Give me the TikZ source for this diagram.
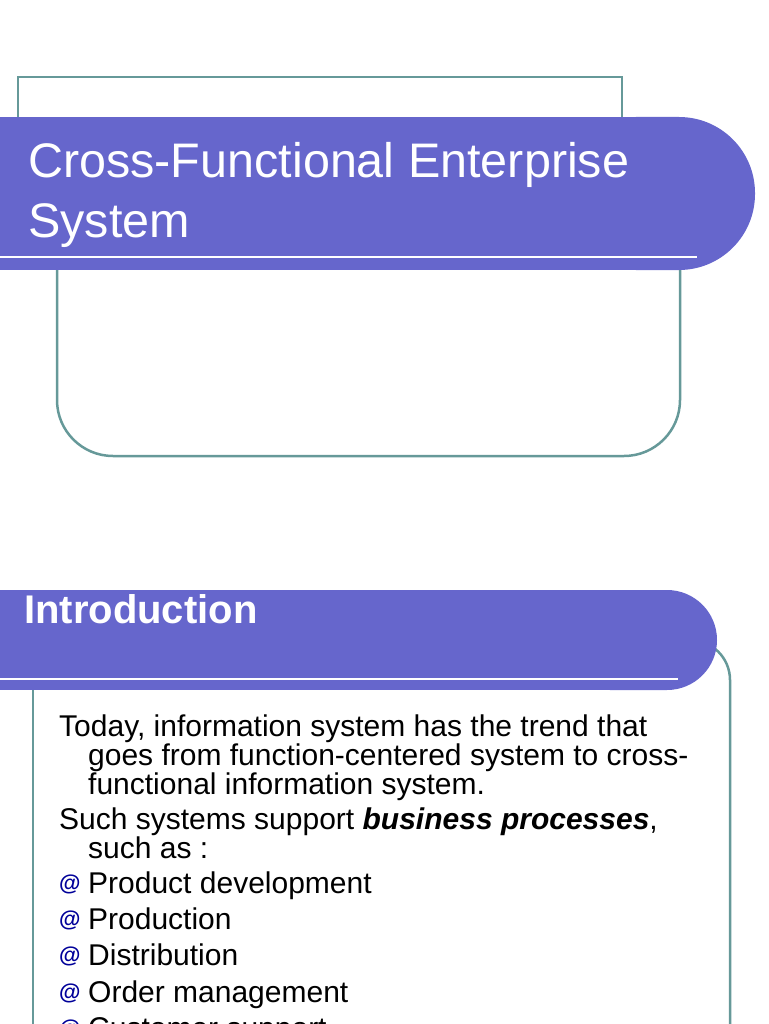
\documentclass[tikz,border=0pt]{standalone}
\usepackage{fontspec}
\setmainfont{Liberation Sans}
\begin{document}
\begin{tikzpicture}[x=1pt,y=-1pt,
  txt/.style={anchor=base west,inner sep=0pt,font=\fontsize{30}{33}\selectfont},
  bul/.style={anchor=base west,inner sep=0pt,text=blue!60!black,font=\fontsize{22}{22}\selectfont\bfseries}]
\definecolor{ban}{HTML}{6666CC}
\definecolor{tl}{HTML}{669999}
\useasboundingbox (0,0) rectangle (768,1024);
\begin{scope}
\clip (0,0) rectangle (768,1024);
% slide 1 frames
\draw[draw=tl,line width=2.5pt] (18,130) -- (18,77) -- (622,77) -- (622,130);
\draw[draw=tl,line width=2.5pt,rounded corners=56] (57,260) -- (57,456) -- (680,456) -- (680,260);
% banner 1
\fill[ban] (0,117) rectangle (680,270);
\fill[ban,rounded corners=76] (560,117) rectangle (755,270);
\draw[white,line width=2.5pt] (0,257) -- (697,257);
\node[anchor=base west,inner sep=0pt,text=white,font=\fontsize{48.5}{52}\selectfont] (t1) at (28,178) {Cross-Functional Enterprise};
\node[anchor=base west,inner sep=0pt,text=white,font=\fontsize{48.5}{52}\selectfont] (t2) at (28,237) {System};
% slide 2 frame
\draw[draw=tl,line width=2.5pt] (33,690) -- (33,1030);
\draw[draw=tl,line width=2.5pt,rounded corners=40] (680,640) -- (730,640) -- (730,1030);
% banner 2
\fill[ban] (0,590) rectangle (667,690);
\fill[ban,rounded corners=50] (560,590) rectangle (717,690);
\draw[white,line width=2.5pt] (0,679) -- (678,679);
\node[anchor=base west,inner sep=0pt,text=white,font=\fontsize{40}{44}\selectfont\bfseries] (h2) at (24,623) {Introduction};
% body
\node[txt] (l1) at (59,736) {Today, information system has the trend that};
\node[txt] (l2) at (88,765) {goes from function-centered system to cross-};
\node[txt] (l3) at (88,794) {functional information system.};
\node[txt] (l4) at (59,829) {Such systems support \textbf{\textit{business processes}},};
\node[txt] (l5) at (88,858) {such as :};
\foreach \y/\t/\n in {893/Product development/a,929/Production/b,965/Distribution/c,1002/Order management/d,1038/Customer support/e}{
  \node[bul] (b\n) at (59,\y-3) {@};
  \node[txt] (i\n) at (88,\y) {\t};
}
\end{scope}
\end{tikzpicture}
\end{document}
